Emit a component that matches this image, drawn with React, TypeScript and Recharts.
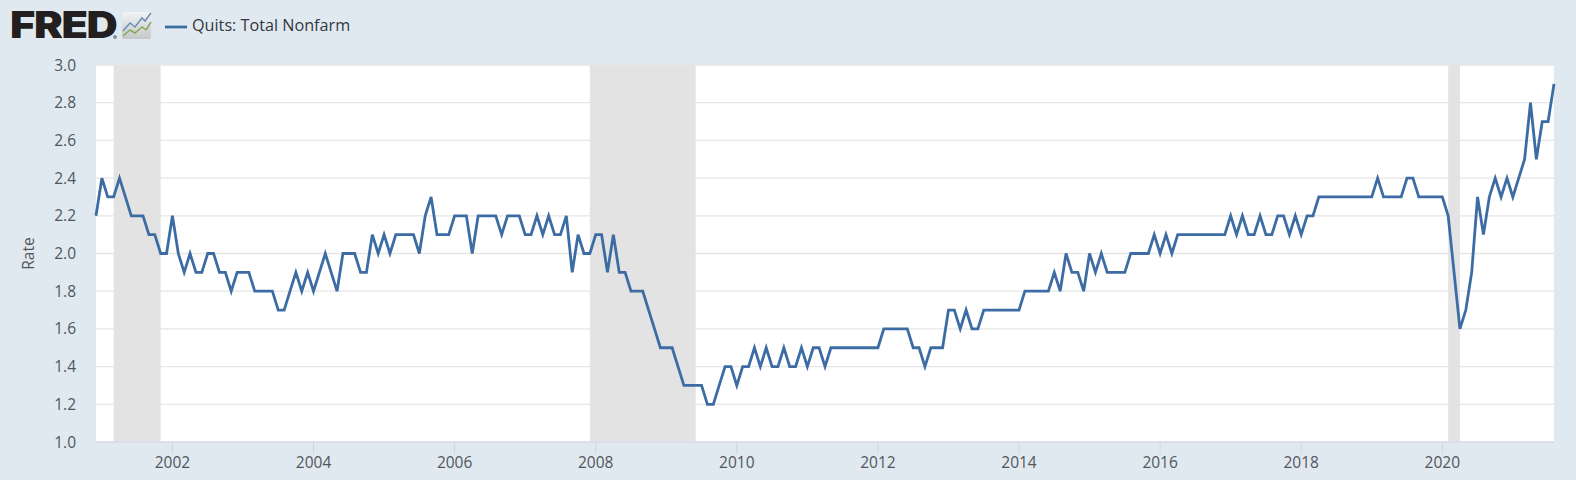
import React from 'react';
import {
    LineChart, Line, XAxis, YAxis, CartesianGrid, ReferenceArea, Legend
} from 'recharts';

// monthly quits rate, Dec 2000 to Aug 2021
const firstMonth = 2000 + 11 / 12;
const quitsRate = [
    2.2, 2.4, 2.3, 2.3, 2.4, 2.3, 2.2, 2.2, 2.2, 2.1, 2.1, 2.0, 2.0,
    2.2, 2.0, 1.9, 2.0, 1.9, 1.9, 2.0, 2.0, 1.9, 1.9, 1.8, 1.9, 1.9, 1.9, 1.8,
    1.8, 1.8, 1.8, 1.7, 1.7, 1.8, 1.9, 1.8, 1.9, 1.8, 1.9, 2.0, 1.9, 1.8,
    2.0, 2.0, 2.0, 1.9, 1.9, 2.1, 2.0, 2.1, 2.0, 2.1, 2.1, 2.1, 2.1, 2.0,
    2.2, 2.3, 2.1, 2.1, 2.1, 2.2, 2.2, 2.2, 2.0, 2.2, 2.2, 2.2, 2.2, 2.1,
    2.2, 2.2, 2.2, 2.1, 2.1, 2.2, 2.1, 2.2, 2.1, 2.1, 2.2, 1.9, 2.1, 2.0,
    2.0, 2.1, 2.1, 1.9, 2.1, 1.9, 1.9, 1.8, 1.8, 1.8, 1.7, 1.6, 1.5, 1.5,
    1.5, 1.4, 1.3, 1.3, 1.3, 1.3, 1.2, 1.2, 1.3, 1.4, 1.4, 1.3, 1.4, 1.4,
    1.5, 1.4, 1.5, 1.4, 1.4, 1.5, 1.4, 1.4, 1.5, 1.4, 1.5, 1.5, 1.4, 1.5,
    1.5, 1.5, 1.5, 1.5, 1.5, 1.5, 1.5, 1.5, 1.6, 1.6, 1.6, 1.6, 1.6, 1.5,
    1.5, 1.4, 1.5, 1.5, 1.5, 1.7, 1.7, 1.6, 1.7, 1.6, 1.6, 1.7, 1.7, 1.7,
    1.7, 1.7, 1.7, 1.7, 1.8, 1.8, 1.8, 1.8, 1.8, 1.9, 1.8, 2.0, 1.9, 1.9,
    1.8, 2.0, 1.9, 2.0, 1.9, 1.9, 1.9, 1.9, 2.0, 2.0, 2.0, 2.0, 2.1, 2.0,
    2.1, 2.0, 2.1, 2.1, 2.1, 2.1, 2.1, 2.1, 2.1, 2.1, 2.1, 2.2, 2.1, 2.2,
    2.1, 2.1, 2.2, 2.1, 2.1, 2.2, 2.2, 2.1, 2.2, 2.1, 2.2, 2.2, 2.3, 2.3,
    2.3, 2.3, 2.3, 2.3, 2.3, 2.3, 2.3, 2.3, 2.4, 2.3, 2.3, 2.3, 2.3, 2.4,
    2.4, 2.3, 2.3, 2.3, 2.3, 2.3, 2.2, 1.9, 1.6, 1.7, 1.9, 2.3, 2.1, 2.3,
    2.4, 2.3, 2.4, 2.3, 2.4, 2.5, 2.8, 2.5, 2.7, 2.7, 2.9
];
const yearTicks = [2002, 2004, 2006, 2008, 2010, 2012, 2014, 2016, 2018, 2020];
const rateTicks = [1.0, 1.2, 1.4, 1.6, 1.8, 2.0, 2.2, 2.4, 2.6, 2.8, 3.0];
// recession spans as decimal years
const recessionStarts = [2001 + 2 / 12, 2007 + 11 / 12, 2020 + 1 / 12];
const recessionEnds = [2001 + 10 / 12, 2009 + 5 / 12, 2020 + 3 / 12];

const chartData = quitsRate.map((rate, idx) => ({ date: firstMonth + idx / 12, rate }));
const lastMonth = firstMonth + (quitsRate.length - 1) / 12;

const fontFamily = '"Open Sans", sans-serif';
const tickStyle = { fill: '#50565c', fontSize: 15.5, fontFamily };

function Logo() {
    return (
        <div style={{ position: 'absolute', left: 0, top: 0 }}>
            <div style={{
                position: 'absolute', left: 10, top: 3, fontFamily: 'Inter, sans-serif', fontWeight: 900,
                fontSize: 37, lineHeight: '44px', letterSpacing: '-1.2px', color: '#231f20',
                transform: 'scaleX(1.17)', transformOrigin: 'left center'
            }}>FRED</div>
            <div style={{
                position: 'absolute', left: 113, top: 35, width: 4, height: 4, borderRadius: '50%',
                background: '#8a8f94'
            }}></div>
            <svg width={30} height={28} style={{ position: 'absolute', left: 122, top: 11 }}>
                <defs>
                    <linearGradient id="logoBg" x1="0" y1="0" x2="0" y2="1">
                        <stop offset="0%" stopColor="#f2f4f5" />
                        <stop offset="100%" stopColor="#c4c8c8" />
                    </linearGradient>
                </defs>
                <rect x={0} y={1} width={29} height={27} rx={2} fill="url(#logoBg)" />
                <polyline points="1,20 8,12 13,16 20,7 23,10 29,2" fill="none" stroke="#6d8db5" strokeWidth={1.5} />
                <polyline points="1,25 8,19 13,22 20,16 24,19 29,11" fill="none" stroke="#8aa65c" strokeWidth={1.5} />
            </svg>
        </div>
    );
}

export default function App() {
    return (
        <div style={{ position: 'absolute', left: 0, top: 0, width: 1576, height: 480, background: '#e1e9f0', overflow: 'hidden' }}>
            <Logo />
            <LineChart
                width={1576}
                height={480}
                data={chartData}
                margin={{ top: 65, right: 22, bottom: 0, left: 0 }}
            >
                <CartesianGrid horizontal vertical={false} stroke="#e6e6e6" strokeWidth={1.3} fill="#ffffff" fillOpacity={1} />
                <XAxis
                    dataKey="date"
                    type="number"
                    domain={[firstMonth, lastMonth]}
                    ticks={yearTicks}
                    tickFormatter={(v: number) => String(Math.round(v))}
                    height={38}
                    tickSize={12}
                    tickMargin={3}
                    stroke="#ccd6eb"
                    tick={tickStyle}
                    interval={0}
                />
                <YAxis
                    type="number"
                    domain={[1, 3]}
                    ticks={rateTicks}
                    tickFormatter={(v: number) => v.toFixed(1)}
                    width={96}
                    tickSize={0}
                    tickMargin={20}
                    axisLine={false}
                    tick={tickStyle}
                    interval={0}
                    label={{ value: 'Rate', angle: -90, position: 'insideLeft', offset: 28, style: { ...tickStyle, textAnchor: 'middle' } }}
                />
                {recessionStarts.map((start, idx) => (
                    <ReferenceArea key={start} x1={start} x2={recessionEnds[idx]} fill="#e3e3e3" fillOpacity={1} stroke="none" />
                ))}
                <Legend
                    verticalAlign="middle"
                    align="center"
                    layout="horizontal"
                    iconType="plainline"
                    iconSize={22}
                    wrapperStyle={{ position: 'absolute', left: 165, top: 14, width: 'auto', fontFamily, fontSize: 16.2 }}
                    formatter={(value: string) => <span style={{ color: '#33383e', marginLeft: 1 }}>{value}</span>}
                />
                <Line
                    name="Quits: Total Nonfarm"
                    dataKey="rate"
                    stroke="#3c6ca3"
                    strokeWidth={2.8}
                    dot={false}
                    isAnimationActive={false}
                    strokeLinejoin="miter"
                />
            </LineChart>
        </div>
    );
}
